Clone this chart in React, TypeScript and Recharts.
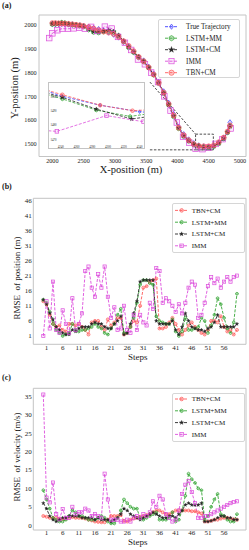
import React from "react";
import {
  ScatterChart,
  Scatter,
  LineChart,
  Line,
  XAxis,
  YAxis,
  ReferenceArea,
  ReferenceLine,
} from "recharts";

const FONT = '"Liberation Serif", "Times New Roman", serif';
const INK = "#1a1a1a";
const FRAME = "#c4c4c4";

const C_TRUE = "#3b3bff";
const C_MM = "#34a534";
const C_CM = "#262626";
const C_IMM = "#dc4fdc";
const C_TBN = "#ff5a5a";

// ---- (a) trajectory, metres ----
const trajX = [
  2000, 2050, 2100, 2150, 2200, 2260, 2320, 2380, 2440, 2500, 2580, 2660, 2740, 2820, 2900, 2980, 3060, 3140,
  3220, 3300, 3380, 3460, 3540, 3620, 3700, 3780, 3860, 3940, 4020, 4100, 4180, 4260, 4340, 4420, 4500, 4580,
  4660, 4740, 4800, 4840,
];
const trueY = [
  2005, 2005, 2005, 2005, 2004, 2003, 2002, 2000, 1998, 1996, 1992, 1987, 1982, 1976, 1969, 1960, 1948, 1930,
  1910, 1888, 1866, 1850, 1824, 1795, 1760, 1720, 1672, 1625, 1572, 1540, 1518, 1502, 1493, 1489, 1488, 1492,
  1505, 1525, 1550, 1590,
];
const lstmMmY = [
  2003, 2004, 2006, 2010, 2008, 2003, 2001, 1999, 1997, 1993, 1980, 1970, 1968, 1972, 1974, 1970, 1955, 1930,
  1905, 1885, 1864, 1846, 1820, 1790, 1755, 1713, 1664, 1615, 1565, 1532, 1512, 1497, 1490, 1486, 1486, 1490,
  1502, 1522, 1548, 1575,
];
const lstmCmY = [
  2006, 2007, 2006, 2008, 2007, 2004, 2002, 2000, 1998, 1994, 1982, 1972, 1970, 1974, 1978, 1972, 1956, 1932,
  1908, 1887, 1865, 1847, 1821, 1791, 1756, 1714, 1665, 1617, 1567, 1534, 1513, 1498, 1491, 1487, 1487, 1491,
  1503, 1523, 1549, 1574,
];
const tbnY = [
  2008, 2008, 2007, 2006, 2006, 2005, 2003, 2001, 1999, 1996, 1991, 1985, 1978, 1972, 1968, 1962, 1950, 1932,
  1912, 1890, 1866, 1848, 1822, 1792, 1757, 1716, 1668, 1620, 1568, 1537, 1516, 1500, 1492, 1490, 1490, 1494,
  1507, 1527, 1552, 1578,
];
const immX = [
  1950, 2000, 2080, 2160, 2250, 2340, 2430, 2520, 2620, 2720, 2840, 2950, 3050, 3160, 3260, 3370, 3480, 3580,
  3690, 3790, 3890, 3990, 4090, 4190, 4290, 4400, 4500, 4610, 4720, 4850,
];
const immY = [
  1945, 1965, 1978, 1985, 1984, 1986, 1988, 1985, 1992, 1975, 1993, 1985, 1950, 1925, 1895, 1855, 1835, 1800,
  1760, 1700, 1640, 1590, 1530, 1505, 1480, 1478, 1485, 1500, 1520, 1565,
];
const trajXTicks = [2000, 2500, 3000, 3500, 4000, 4500, 5000];
const trajYTicks = [1500, 1600, 1700, 1800, 1900, 2000];

// zoomed inset
const insetXTicks = [4240, 4260, 4280, 4300, 4320, 4340];
const insetYTicks = [1470, 1480, 1490, 1500];
const insetTrueX = [4200, 4242, 4290, 4340, 4390];
const insetTrueY = [1508, 1500.2, 1494, 1489.5, 1487];
const insetMmX = [4200, 4242, 4285, 4328, 4375];
const insetMmY = [1505, 1498.4, 1490.6, 1486.2, 1490];
const insetCmX = [4200, 4242, 4285, 4330, 4375];
const insetCmY = [1506, 1499.5, 1491.3, 1484.4, 1488];
const insetImmX = [4190, 4235, 4298, 4345];
const insetImmY = [1477.5, 1475.8, 1486.8, 1482.5];
const insetTbnX = [4195, 4242, 4290, 4331, 4375];
const insetTbnY = [1509, 1501.3, 1494, 1490.2, 1491.5];

// ---- (b) RMSE of position (m) ----
const steps = Array.from({ length: 61 }, (_, i) => i);
const stepTicks = [1, 6, 11, 16, 21, 26, 31, 36, 41, 46, 51, 56];
const posTbn = [
  12.5, 11.5, 8, 5, 4, 4.5, 3, 2.5, 5, 5, 4.5, 5, 4, 3, 1.5, 5.5, 6, 6, 4, 3, 6.5, 4.5, 5.5, 7, 7, 1.5, 2, 4, 6,
  5.5, 11, 17, 17.5, 19, 19.5, 20, 3.5, 3.5, 4, 5.5, 7, 5, 3, 1.5, 3, 4.5, 5.5, 4, 3, 2, 1.5, 3, 6, 6, 5.5, 7.5,
  4, 2.5, 3, 1.5, 3,
];
const posMm = [
  13, 12, 9, 5, 3, 2, 1, 1.5, 2, 5, 3, 2.5, 3, 3, 3.5, 4, 5, 4, 3.5, 2, 1.5, 3.5, 5, 8, 10, 2, 2, 4, 7, 12, 18,
  19.5, 19.5, 18.5, 18, 7.5, 6, 5.5, 5, 5, 6.5, 2.5, 1, 2.5, 7, 3, 3, 3.5, 4, 7, 6, 2, 4.5, 8, 13.5, 11.5, 7,
  3.5, 2, 5.5, 15,
];
const posCm = [
  13, 11.5, 8.5, 6.5, 4, 3, 2, 1.5, 1.5, 3, 2.5, 3.5, 4, 4, 4, 5, 5.5, 5, 5, 4, 3.5, 3.5, 5, 6, 7.5, 1.5, 2, 5,
  8.5, 12.5, 19, 19.5, 19.5, 19.5, 19.5, 6, 5, 5, 5, 5, 6, 3, 1.5, 4, 8.5, 6, 4, 3.5, 3, 3, 2.5, 3.5, 4, 5.5, 8,
  4, 4, 4, 4, 4, 5,
];
const posImm = [
  1, 12.5, 3.5, 19, 3, 2, 9.5, 5, 2, 13.5, 3, 5, 8.5, 22.5, 24, 17, 14, 21.5, 17, 24, 14, 7, 10.5, 3, 3.5, 11,
  3, 2, 8, 3, 8, 5.5, 4.5, 12, 10, 23.5, 22.5, 12, 13.5, 12.5, 11, 9, 11.5, 8.5, 12, 17, 19, 18, 7, 8, 12, 17.5,
  20.5, 18.5, 20, 17, 19, 20.5, 19, 20.5, 21,
];
const posTicks = [1, 6, 11, 16, 21, 26, 31, 36, 41, 46];

// ---- (c) RMSE of velocity (m/s) ----
const velTbn = [
  2.5, 2.3, 2, 2, 2, 1.8, 1.6, 1.8, 2, 2.2, 2, 2, 2, 1.8, 1.5, 1.3, 1, 0.9, 0.8, 0.8, 1.5, 2.5, 2.5, 2.5, 2.8,
  1.2, 1, 1.5, 1.8, 2, 2.3, 2.5, 2.8, 3, 3.5, 4, 4, 3.5, 3, 3, 3.5, 4, 4, 4, 4, 4, 3.8, 3.8, 3.5, 3.2, 1, 1, 1.2,
  1.5, 1.5, 1.8, 2, 2, 1.8, 1.6, 1.5,
];
const velMm = [
  9.5, 7, 4.5, 2, 1.5, 1, 1, 1.5, 2.5, 4, 3.5, 2.5, 2.5, 2, 1.5, 1.5, 1.5, 2, 2.5, 2, 1, 0.5, 0.5, 2, 4, 7, 6, 5,
  4.5, 4.5, 2, 1.5, 2, 2.5, 3, 3.5, 1.5, 1.5, 1.5, 2, 3.5, 1, 1.5, 4, 8, 14, 12.5, 11.5, 10, 9.5, 1.5, 2.5, 5, 7,
  8.5, 3, 2.5, 1.5, 1, 1, 3,
];
const velCm = [
  6, 4.5, 2.5, 1.5, 1, 1.5, 2, 2, 2.5, 2.5, 2.5, 2.5, 2, 2, 2, 2, 1.5, 2, 1.5, 1.5, 1.5, 1, 1.5, 2, 3, 4.5, 4, 3,
  2.5, 2, 1.5, 2, 2.5, 3, 3.5, 3, 2.5, 2, 2, 2.5, 2.5, 2, 3, 4, 5.5, 6, 5.5, 5.5, 5.5, 6, 1, 1, 1.2, 1.5, 2, 2.5,
  2.5, 2, 2, 1.5, 1.5,
];
const velImm = [
  35.5, 7.5, 6.2, 11.6, 3, 1.6, 4.4, 2, 2, 5, 3, 3.5, 3.5, 4.5, 4, 2.5, 3, 2.5, 2, 14, 7, 1.5, 1.5, 1.5, 1, 1,
  1.5, 1, 2, 2.5, 2, 3, 2.5, 3.5, 6.5, 5, 8, 7, 3, 2, 1, 1.5, 4, 8.5, 11, 12, 9, 6, 2, 2, 2.5, 2.5, 3, 3.5, 4,
  4.5, 5, 5.5, 6, 6.3, 6.5,
];
const velTicks = [0, 5, 10, 15, 20, 25, 30, 35];

const zip = (xs: number[], ys: number[]) => xs.map((x, i) => ({ x, y: ys[i] }));

const posRows = steps.map((s, i) => ({ step: s, tbn: posTbn[i], mm: posMm[i], cm: posCm[i], imm: posImm[i] }));
const velRows = steps.map((s, i) => ({ step: s, tbn: velTbn[i], mm: velMm[i], cm: velCm[i], imm: velImm[i] }));

type Kind = "diamond" | "circle" | "hex" | "star" | "square";

function Marker({ kind, cx, cy, r, color }: { kind: Kind; cx?: number; cy?: number; r: number; color: string }) {
  if (cx == null || cy == null || isNaN(cx) || isNaN(cy)) return null;
  const sw = 0.7;
  if (kind === "diamond") {
    const w = r * 0.72;
    return (
      <polygon
        points={`${cx},${cy - r} ${cx + w},${cy} ${cx},${cy + r} ${cx - w},${cy}`}
        fill={color}
        fillOpacity={0.15}
        stroke={color}
        strokeWidth={sw}
      />
    );
  }
  if (kind === "square") {
    return (
      <rect x={cx - r} y={cy - r} width={r * 2} height={r * 2} fill={color} fillOpacity={0.12} stroke={color} strokeWidth={sw} />
    );
  }
  if (kind === "star") {
    const pts: string[] = [];
    for (let i = 0; i < 10; i++) {
      const a = -Math.PI / 2 + (i * Math.PI) / 5;
      const rr = i % 2 === 0 ? r * 1.25 : r * 0.5;
      pts.push(`${cx + rr * Math.cos(a)},${cy + rr * Math.sin(a)}`);
    }
    return <polygon points={pts.join(" ")} fill={color} stroke={color} strokeWidth={0.3} />;
  }
  if (kind === "hex") {
    const pts: string[] = [];
    for (let i = 0; i < 6; i++) {
      const a = -Math.PI / 2 + (i * Math.PI) / 3;
      pts.push(`${cx + r * Math.cos(a)},${cy + r * Math.sin(a)}`);
    }
    return <polygon points={pts.join(" ")} fill={color} fillOpacity={0.3} stroke={color} strokeWidth={sw} />;
  }
  return <circle cx={cx} cy={cy} r={r} fill={color} fillOpacity={0.3} stroke={color} strokeWidth={sw} />;
}

type Item = { name: string; color: string; kind: Kind };

const trajItems: Item[] = [
  { name: "True Trajectory", color: C_TRUE, kind: "diamond" },
  { name: "LSTM+MM", color: C_MM, kind: "hex" },
  { name: "LSTM+CM", color: C_CM, kind: "star" },
  { name: "IMM", color: C_IMM, kind: "square" },
  { name: "TBN+CM", color: C_TBN, kind: "circle" },
];

const rmseItems: (Item & { key: string })[] = [
  { key: "tbn", name: "TBN+CM", color: C_TBN, kind: "circle" },
  { key: "mm", name: "LSTM+MM", color: C_MM, kind: "hex" },
  { key: "cm", name: "LSTM+CM", color: C_CM, kind: "star" },
  { key: "imm", name: "IMM", color: C_IMM, kind: "square" },
];

function LegendBox(props: {
  left: number;
  top: number;
  width: number;
  height: number;
  items: Item[];
  firstRow: number;
  rowGap: number;
  lineX0: number;
  lineX1: number;
  textX: number;
  r: number;
  fontSize: number;
}) {
  const { left, top, width, height, items, firstRow, rowGap, lineX0, lineX1, textX, r, fontSize } = props;
  return (
    <div
      style={{
        position: "absolute",
        left,
        top,
        width,
        height,
        border: "1px solid #d6d6d6",
        borderRadius: 2,
        background: "rgba(255,255,255,0.85)",
        boxSizing: "border-box",
      }}
    >
      <svg width={width} height={height} style={{ position: "absolute", left: -1, top: -1 }}>
        {items.map((it, i) => {
          const y = firstRow + i * rowGap;
          return (
            <g key={it.name}>
              <line x1={lineX0} x2={lineX1} y1={y} y2={y} stroke={it.color} strokeWidth={0.9} strokeDasharray="3 1.5" />
              <Marker kind={it.kind} cx={(lineX0 + lineX1) / 2} cy={y} r={r} color={it.color} />
              <text x={textX} y={y} dy="0.35em" fontSize={fontSize} fontFamily={FONT} fill={INK}>
                {it.name}
              </text>
            </g>
          );
        })}
      </svg>
    </div>
  );
}

function AxisTitle({ text, x, y, size, vertical }: { text: string; x: number; y: number; size: number; vertical?: boolean }) {
  return (
    <div
      style={{
        position: "absolute",
        left: x,
        top: y,
        transform: `translate(-50%, -50%)${vertical ? " rotate(-90deg)" : ""}`,
        fontSize: size,
        fontFamily: FONT,
        color: INK,
        whiteSpace: "pre",
        lineHeight: 1,
      }}
    >
      {text}
    </div>
  );
}

function PanelTag({ text, top }: { text: string; top: number }) {
  return (
    <div style={{ position: "absolute", left: 2, top, fontSize: 8, fontWeight: "bold", fontFamily: FONT, color: INK, lineHeight: 1 }}>
      {text}
    </div>
  );
}

const tick = (size: number) => ({ fontSize: size, fill: INK, fontFamily: FONT });
const dash = "3 1.5";

function TrajectoryPanel() {
  const xDom: [number, number] = [1787, 5096];
  const yDom: [number, number] = [1447, 2042];
  const series = [
    { item: trajItems[0], data: zip(trajX, trueY), r: 2.8 },
    { item: trajItems[1], data: zip(trajX, lstmMmY), r: 2.3 },
    { item: trajItems[2], data: zip(trajX, lstmCmY), r: 2.1 },
    { item: trajItems[3], data: zip(immX, immY), r: 2.8 },
    { item: trajItems[4], data: zip(trajX, tbnY), r: 2.4 },
  ];
  const inset = [
    { item: trajItems[0], data: zip(insetTrueX, insetTrueY) },
    { item: trajItems[1], data: zip(insetMmX, insetMmY) },
    { item: trajItems[2], data: zip(insetCmX, insetCmY) },
    { item: trajItems[3], data: zip(insetImmX, insetImmY) },
    { item: trajItems[4], data: zip(insetTbnX, insetTbnY) },
  ];
  return (
    <div style={{ position: "absolute", left: 0, top: 0, width: 249, height: 185 }}>
      <ScatterChart width={249} height={185} margin={{ top: 15, right: 3, bottom: 0, left: 0 }}>
        <XAxis
          type="number"
          dataKey="x"
          domain={xDom}
          ticks={trajXTicks}
          interval={0}
          allowDataOverflow
          height={28.5}
          tickLine={false}
          axisLine={false}
          tickSize={0}
          tickMargin={2}
          tick={tick(6.2)}
        />
        <YAxis
          type="number"
          dataKey="y"
          domain={yDom}
          ticks={trajYTicks}
          interval={0}
          allowDataOverflow
          width={39}
          tickLine={false}
          axisLine={false}
          tickSize={0}
          tickMargin={2.3}
          tick={tick(6.2)}
        />
        <ReferenceArea x1={xDom[0]} x2={xDom[1]} y1={yDom[0]} y2={yDom[1]} fill="none" stroke={FRAME} strokeWidth={1} />
        {series.map((s) => (
          <Scatter
            key={s.item.name}
            name={s.item.name}
            data={s.data}
            fill={s.item.color}
            line={{ stroke: s.item.color, strokeWidth: 0.9, strokeDasharray: dash }}
            shape={(p: any) => <Marker kind={s.item.kind} cx={p.cx} cy={p.cy} r={s.r} color={s.item.color} />}
            isAnimationActive={false}
          />
        ))}
        <ReferenceLine
          segment={[
            { x: 3560, y: 1760 },
            { x: 4290, y: 1541 },
          ]}
          stroke="#222"
          strokeWidth={0.8}
          strokeDasharray="2.5 1.5"
        />
        <ReferenceLine
          segment={[
            { x: 3560, y: 1475 },
            { x: 4574, y: 1475 },
          ]}
          stroke="#222"
          strokeWidth={0.8}
          strokeDasharray="2.5 1.5"
        />
        <ReferenceArea x1={4290} x2={4574} y1={1475} y2={1541} fill="none" stroke="#222" strokeWidth={0.8} strokeDasharray="2.5 1.5" />
      </ScatterChart>

      <div
        style={{
          position: "absolute",
          left: 47.7,
          top: 81.7,
          width: 97.3,
          height: 67.3,
          background: "#fff",
          border: `1px solid ${FRAME}`,
          boxSizing: "border-box",
        }}
      >
        <ScatterChart width={95.3} height={65.3} margin={{ top: 0, right: 0, bottom: 0, left: 0 }}>
          <XAxis
            type="number"
            dataKey="x"
            domain={[4225, 4346]}
            ticks={insetXTicks}
            interval={0}
            allowDataOverflow
            mirror
            tickLine={false}
            axisLine={false}
            tickSize={0}
            tickMargin={0.5}
            tick={tick(3)}
          />
          <YAxis
            type="number"
            dataKey="y"
            domain={[1464, 1509.5]}
            ticks={insetYTicks}
            interval={0}
            allowDataOverflow
            mirror
            tickLine={false}
            axisLine={false}
            tickSize={0}
            tickMargin={1.5}
            tick={tick(3)}
          />
          {inset.map((s) => (
            <Scatter
              key={s.item.name}
              data={s.data}
              fill={s.item.color}
              line={{ stroke: s.item.color, strokeWidth: 0.8, strokeDasharray: dash }}
              shape={(p: any) => <Marker kind={s.item.kind} cx={p.cx} cy={p.cy} r={1.8} color={s.item.color} />}
              isAnimationActive={false}
            />
          ))}
        </ScatterChart>
      </div>

      <LegendBox
        left={158}
        top={19}
        width={82}
        height={59}
        items={trajItems}
        firstRow={7.7}
        rowGap={11.5}
        lineX0={7}
        lineX1={20}
        textX={28}
        r={2.6}
        fontSize={7.2}
      />
      <AxisTitle text="X-position (m)" x={131} y={169.5} size={10.5} />
      <AxisTitle text="Y-position (m)" x={15} y={88} size={10.5} vertical />
    </div>
  );
}

function RmsePanel(props: {
  top: number;
  height: number;
  plotTop: number;
  plotBottom: number;
  rows: any[];
  yDomain: [number, number];
  yTicks: number[];
  yTitle: string;
  yTitleY: number;
  stepsY: number;
  legendTop: number;
  legendHeight: number;
  legendFirst: number;
}) {
  const { top, height, plotTop, plotBottom, rows, yDomain, yTicks, yTitle, yTitleY, stepsY, legendTop, legendHeight, legendFirst } = props;
  const xDom: [number, number] = [-3.1, 62.8];
  return (
    <div style={{ position: "absolute", left: 0, top, width: 249, height }}>
      <LineChart width={249} height={height} data={rows} margin={{ top: plotTop, right: 3, bottom: 0, left: 0 }}>
        <XAxis
          type="number"
          dataKey="step"
          domain={xDom}
          ticks={stepTicks}
          interval={0}
          allowDataOverflow
          height={height - plotBottom}
          tickLine={false}
          axisLine={false}
          tickSize={0}
          tickMargin={0.5}
          tick={tick(7)}
        />
        <YAxis
          type="number"
          domain={yDomain}
          ticks={yTicks}
          interval={0}
          allowDataOverflow
          width={33.3}
          tickLine={false}
          axisLine={false}
          tickSize={0}
          tickMargin={1.6}
          tick={tick(7)}
        />
        <ReferenceArea x1={xDom[0]} x2={xDom[1]} y1={yDomain[0]} y2={yDomain[1]} fill="none" stroke={FRAME} strokeWidth={1} />
        {rmseItems.map((s) => (
          <Line
            key={s.key}
            type="linear"
            dataKey={s.key}
            name={s.name}
            stroke={s.color}
            strokeWidth={0.9}
            strokeDasharray={dash}
            dot={(p: any) => <Marker key={`${s.key}-${p.index}`} kind={s.kind} cx={p.cx} cy={p.cy} r={s.kind === "square" ? 1.6 : 1.5} color={s.color} />}
            isAnimationActive={false}
          />
        ))}
      </LineChart>
      <LegendBox
        left={172}
        top={legendTop}
        width={73}
        height={legendHeight}
        items={rmseItems}
        firstRow={legendFirst}
        rowGap={11.8}
        lineX0={3}
        lineX1={16.3}
        textX={19.7}
        r={1.8}
        fontSize={7}
      />
      <AxisTitle text="Steps" x={137.7} y={stepsY} size={9} />
      <AxisTitle text={yTitle} x={16.7} y={yTitleY} size={9} vertical />
    </div>
  );
}

export default function App() {
  return (
    <div style={{ position: "absolute", left: 0, top: 0, width: 249, height: 550, background: "#fff", overflow: "hidden" }}>
      <PanelTag text="(a)" top={2} />
      <TrajectoryPanel />
      <PanelTag text="(b)" top={183} />
      <RmsePanel
        top={185}
        height={180}
        plotTop={13.3}
        plotBottom={159.3}
        rows={posRows}
        yDomain={[-1.75, 46.6]}
        yTicks={posTicks}
        yTitle={"RMSE  of position (m)"}
        yTitleY={93}
        stepsY={171.5}
        legendTop={18.3}
        legendHeight={50}
        legendFirst={7.4}
      />
      <PanelTag text="(c)" top={374} />
      <RmsePanel
        top={365}
        height={185}
        plotTop={23.3}
        plotBottom={165}
        rows={velRows}
        yDomain={[-1.3, 37.2]}
        yTicks={velTicks}
        yTitle={"RMSE  of velocity (m/s)"}
        yTitleY={92}
        stepsY={177}
        legendTop={28.3}
        legendHeight={48.4}
        legendFirst={6}
      />
    </div>
  );
}
